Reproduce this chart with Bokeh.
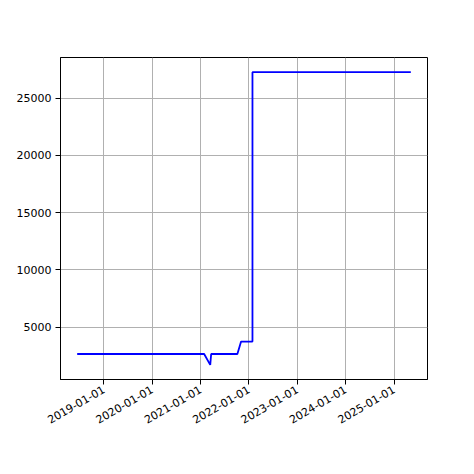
import math
import pandas as pd
from bokeh.plotting import figure
from bokeh.models import FixedTicker, DatetimeTickFormatter, NumeralTickFormatter, Range1d
from bokeh.embed import file_html
from bokeh.resources import INLINE

# data
dates = ["2018-06-14", "2021-01-28", "2021-03-15", "2021-03-22", "2021-10-06",
         "2021-11-03", "2022-01-28", "2022-01-28", "2025-05-08"]
values = [2670, 2670, 1720, 2670, 2670, 3750, 3750, 27270, 27270]
x_tick_labels = ["2019-01-01", "2020-01-01", "2021-01-01", "2022-01-01",
                 "2023-01-01", "2024-01-01", "2025-01-01"]
y_ticks = [5000, 10000, 15000, 20000, 25000]

x = pd.to_datetime(dates)
xt = pd.to_datetime(x_tick_labels)
to_ms = lambda t: t.value / 1e6

xmin, xmax = to_ms(x.min()), to_ms(x.max())
ymin, ymax = min(values), max(values)
xpad = (xmax - xmin) * 0.05
ypad = (ymax - ymin) * 0.05

p = figure(width=466, height=466, x_axis_type="datetime",
           output_backend="svg", toolbar_location=None,
           x_range=Range1d(xmin - xpad, xmax + xpad),
           y_range=Range1d(ymin - ypad, ymax + ypad),
           min_border_left=60, min_border_right=39,
           min_border_top=57, min_border_bottom=87)

p.line(x=x, y=values, line_color="#0000ff", line_width=1.8)

p.xaxis.ticker = FixedTicker(ticks=[to_ms(t) for t in xt])
p.xaxis.formatter = DatetimeTickFormatter(days="%Y-%m-%d", months="%Y-%m-%d",
                                          years="%Y-%m-%d")
p.xaxis.major_label_orientation = math.pi / 6
p.yaxis.ticker = FixedTicker(ticks=y_ticks)
p.yaxis.formatter = NumeralTickFormatter(format="0")

for ax in (p.xaxis, p.yaxis):
    ax.major_label_text_font = "DejaVu Sans"
    ax.major_label_text_font_size = "11px"
    ax.major_label_text_color = "black"
    ax.axis_line_color = "black"
    ax.axis_line_width = 1
    ax.major_tick_line_color = "black"
    ax.major_tick_in = 0
    ax.major_tick_out = 5
    ax.minor_tick_line_color = None
    ax.major_label_standoff = 4

p.grid.grid_line_color = "#b0b0b0"
p.grid.grid_line_width = 1
p.outline_line_color = "black"
p.outline_line_width = 1
p.background_fill_color = "white"
p.border_fill_color = "white"

open("out.html", "w").write(file_html(p, INLINE))
